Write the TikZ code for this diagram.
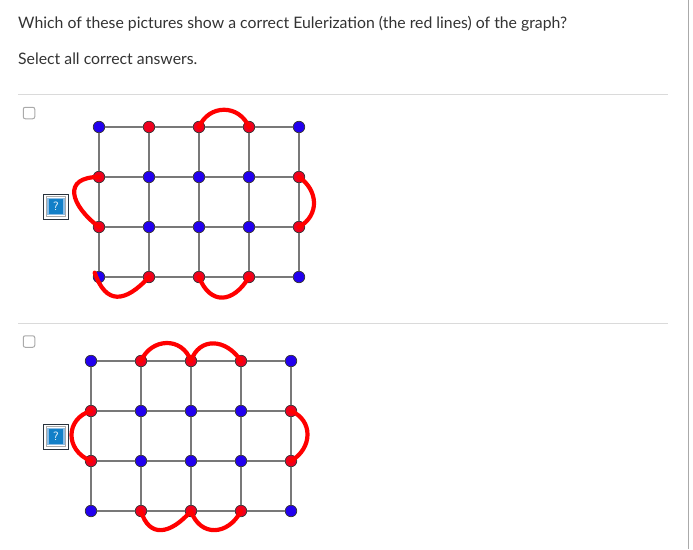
\documentclass[tikz,border=0pt]{standalone}
\usepackage{fontspec}
\setmainfont{Lato}
\definecolor{txt}{RGB}{51,51,51}
\definecolor{nblue}{RGB}{34,0,238}
\definecolor{nred}{RGB}{238,0,30}
\definecolor{ered}{RGB}{255,0,0}
\definecolor{gridc}{RGB}{120,120,120}
\definecolor{sepc}{RGB}{218,218,218}
\definecolor{boxc}{RGB}{170,170,170}
\definecolor{helpblue}{RGB}{18,128,200}
\definecolor{helpring}{RGB}{140,190,230}
\definecolor{helpdark}{RGB}{40,50,60}
\tikzset{
  vtx/.style={circle, draw=black!80, line width=0.7pt, inner sep=0pt, minimum size=11.5pt},
  bluev/.style={vtx, fill=nblue},
  redv/.style={vtx, fill=nred},
  gridedge/.style={draw=gridc, line width=2pt},
  euler/.style={draw=ered, line width=4.2pt, line cap=round},
  sepline/.style={draw=sepc, line width=1pt},
  chkbox/.style={draw=boxc, line width=1pt, rounded corners=2pt, fill=white},
  qtext/.style={anchor=base west, text=txt, font=\fontsize{15.8}{18}\selectfont, inner sep=0pt},
}
\newcommand{\helpicon}[3]{%
  \node[draw=helpdark, line width=1pt, minimum size=25pt, inner sep=0pt, fill=white] (#1) at (#2,#3) {};
  \node[draw=boxc, line width=1pt, minimum size=19.5pt, inner sep=0pt] (#1r) at (#2,#3) {};
  \node[draw=helpring, line width=1.2pt, minimum size=16pt, inner sep=0pt, fill=helpblue, text=white, font=\sffamily\fontsize{12}{12}\selectfont] (#1q) at (#2,#3) {?};
}
\newcommand{\gridgraph}[3]{%
  % #1 prefix, #2 x0, #3 y0
  \foreach \r in {1,...,4}{
    \foreach \c in {1,...,5}{
      \pgfmathtruncatemacro{\isred}{((\r==1 || \r==4) && (\c>1 && \c<5)) || ((\r==2 || \r==3) && (\c==1 || \c==5)) ? 1 : 0}
      \ifnum\isred=1
        \node[redv] (#1-\r-\c) at ({#2+50*(\c-1)},{#3+50*(\r-1)}) {};
      \else
        \node[bluev] (#1-\r-\c) at ({#2+50*(\c-1)},{#3+50*(\r-1)}) {};
      \fi
    }
  }
  \foreach \r in {1,...,4}{
    \foreach \c [evaluate=\c as \cn using int(\c+1)] in {1,...,4}{
      \draw[gridedge] (#1-\r-\c) -- (#1-\r-\cn);
    }
  }
  \foreach \r [evaluate=\r as \rn using int(\r+1)] in {1,...,3}{
    \foreach \c in {1,...,5}{
      \draw[gridedge] (#1-\r-\c) -- (#1-\rn-\c);
    }
  }
}
\begin{document}
\begin{tikzpicture}[x=1pt,y=-1pt]
\useasboundingbox[fill=white] (0,0) rectangle (693,549);
% header text
\node[qtext] (q1) at (18,28.3) {Which of these pictures show a correct Eulerization (the red lines) of the graph?};
\node[qtext] (q2) at (18,64.3) {Select all correct answers.};
% separators and right border
\coordinate (s1a) at (18,94.5); \coordinate (s1b) at (668,94.5);
\coordinate (s2a) at (18,323.5); \coordinate (s2b) at (668,323.5);
\draw[sepline] (s1a) -- (s1b);
\draw[sepline] (s2a) -- (s2b);
\coordinate (rb1) at (688.5,0); \coordinate (rb2) at (688.5,549);
\draw[draw=boxc, line width=1.3pt] (rb1) -- (rb2);
% checkboxes
\node[chkbox, minimum size=11.5pt, inner sep=0pt] (cb1) at (29,113) {};
\node[chkbox, minimum size=11.5pt, inner sep=0pt] (cb2) at (29,341.5) {};
% help icons
\helpicon{h1}{56}{206.5}
\helpicon{h2}{56}{436.5}
% graph 1
\gridgraph{a}{99}{127}
\draw[euler] (a-1-3.center) .. controls (209,104) and (239,104) .. (a-1-4.center);
\draw[euler] (a-2-1.center) .. controls (62,177) and (70,205) .. (a-3-1.center);
\draw[euler] (a-2-5.center) .. controls (318,190) and (320,215) .. (a-3-5.center);
\draw[euler] (a-4-1.135) .. controls (106,305) and (125,303) .. (a-4-2.center);
\draw[euler] (a-4-3.center) .. controls (210,305) and (233,304) .. (a-4-4.center);
% graph 2
\gridgraph{b}{91}{361}
\draw[euler] (b-1-2.center) .. controls (151,338) and (182,336) .. (b-1-3.center);
\draw[euler] (b-1-3.center) .. controls (199,337) and (226,338) .. (b-1-4.center);
\draw[euler] (b-2-1.center) .. controls (66,418) and (64,450) .. (b-3-1.center);
\draw[euler] (b-2-5.center) .. controls (313,420) and (313,448) .. (b-3-5.center);
\draw[euler] (b-4-2.center) .. controls (149,538) and (170,535) .. (b-4-3.center);
\draw[euler] (b-4-3.center) .. controls (200,537) and (228,536) .. (b-4-4.center);
\end{tikzpicture}
\end{document}
